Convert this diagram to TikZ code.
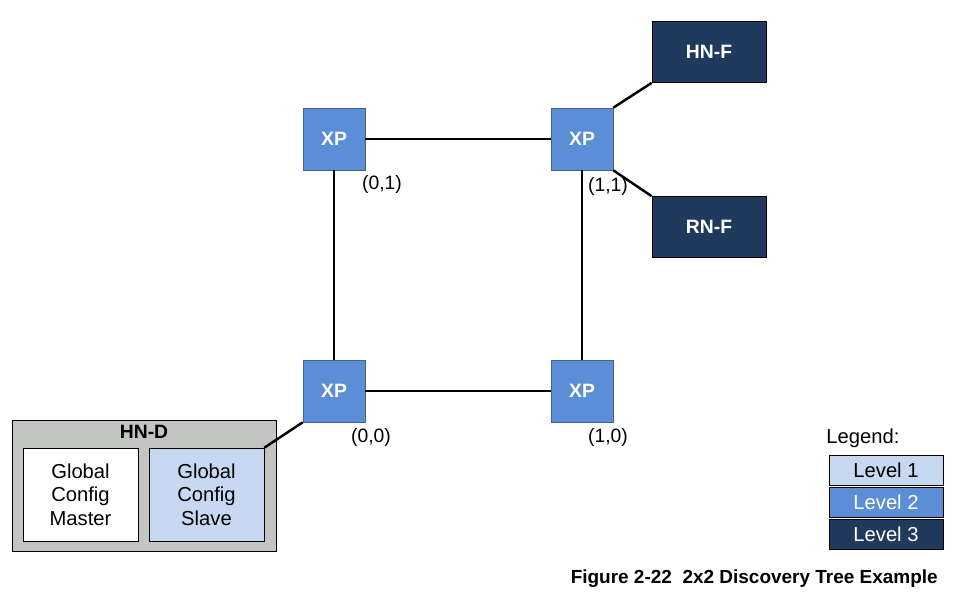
\documentclass[tikz,border=0pt]{standalone}
\usepackage{fontspec}
\setmainfont{Liberation Sans}
\definecolor{lvlone}{HTML}{C6D9F1}
\definecolor{lvltwo}{HTML}{5B8ED6}
\definecolor{lvlthree}{HTML}{1F3A5C}
\definecolor{hndgray}{HTML}{C3C5C3}
\tikzset{
  xp/.style={draw=lvltwo!70!black,fill=lvltwo,minimum width=1.24cm,minimum height=1.24cm,
    text=white,font=\bfseries\fontsize{11}{13}\selectfont},
  node3/.style={draw=black,fill=lvlthree,minimum width=2.28cm,minimum height=1.22cm,
    text=white,font=\bfseries\fontsize{11}{13}\selectfont},
  inner/.style={draw=black,minimum width=2.3cm,minimum height=1.86cm,align=center,
    font=\fontsize{11.5}{13.5}\selectfont},
  legbox/.style={draw=black,minimum width=2.28cm,minimum height=0.6cm,font=\fontsize{11.5}{13}\selectfont},
  lbl/.style={font=\fontsize{11}{13}\selectfont},
  link/.style={line width=1.4pt}
}
\begin{document}
\begin{tikzpicture}[x=0.02cm,y=-0.02cm]
  % canvas
  \useasboundingbox (0,0) rectangle (956,600);

  % crosspoints
  \node[xp] (xp01) at (334,139) {XP};
  \node[xp] (xp11) at (582,139) {XP};
  \node[xp] (xp00) at (334,391) {XP};
  \node[xp] (xp10) at (582,391) {XP};
  \node[lbl] at (382,184) {(0,1)};
  \node[lbl] at (608,186) {(1,1)};
  \node[lbl] at (371,437) {(0,0)};
  \node[lbl] at (608,437) {(1,0)};

  % mesh links
  \draw[link] (xp01) -- (xp11);
  \draw[link] (xp00) -- (xp10);
  \draw[link] (xp01) -- (xp00);
  \draw[link] (xp11) -- (xp10);

  % level 3 nodes
  \node[node3] (hnf) at (709,52) {HN-F};
  \node[node3] (rnf) at (709,227) {RN-F};
  \draw[link] (xp11.north east) -- (hnf.south west);
  \draw[link] (xp11.south east) -- (rnf.north west);

  % HN-D
  \draw[fill=hndgray] (12,420) rectangle (276,551);
  \node[font=\bfseries\fontsize{11}{13}\selectfont] at (144,432) {HN-D};
  \node[inner,fill=white] (master) at (80.5,494.5) {Global\\Config\\Master};
  \node[inner,fill=lvlone] (slave) at (206.5,494.5) {Global\\Config\\Slave};
  \draw[link] (slave.north east) -- (xp00.south west);

  % legend
  \node[font=\fontsize{11.5}{13}\selectfont] at (863,438) {Legend:};
  \node[legbox,fill=lvlone] (l1) at (886,470) {Level 1};
  \node[legbox,fill=lvltwo,text=white] (l2) at (886,502) {Level 2};
  \node[legbox,fill=lvlthree,text=white] (l3) at (886,534) {Level 3};

  % caption
  \node[anchor=east,font=\bfseries\fontsize{10.8}{13}\selectfont] at (944,579) {Figure 2-22\ \ 2x2 Discovery Tree Example};
\end{tikzpicture}
\end{document}
